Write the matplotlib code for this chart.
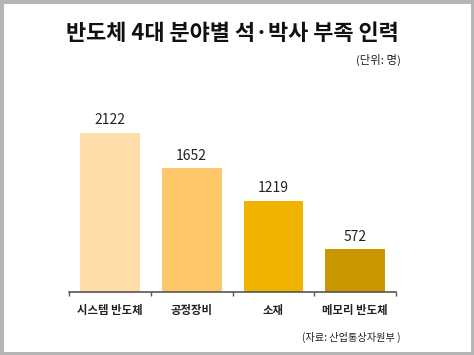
import matplotlib.pyplot as plt
from matplotlib.patches import Rectangle

plt.rcParams['font.family'] = ['Noto Sans CJK KR', 'DejaVu Sans']

categories = ['시스템 반도체', '공정장비', '소재', '메모리 반도체']
shortage = [2122, 1652, 1219, 572]
bar_colors = ['#FFDDAA', '#FEC86A', '#F0B300', '#C99700']

fig = plt.figure(figsize=(4.74, 3.55), dpi=100)
ax = fig.add_axes([0.1456, 0.1775, 0.69, 0.507])

x = range(len(categories))
bars = ax.bar(x, shortage, width=0.73, color=bar_colors)

# value labels above bars
for rect, val in zip(bars, shortage):
    ax.annotate(f'{val}', (rect.get_x() + rect.get_width() / 2, rect.get_height()),
                xytext=(0, 4), textcoords='offset points',
                ha='center', va='bottom', fontsize=10, color='#222222')

ax.set_xlim(-0.5, len(categories) - 0.5)
ax.set_ylim(0, 2400)

# ticks sit between categories, labels centred under bars
ax.set_xticks([i - 0.5 for i in range(len(categories) + 1)])
ax.set_xticklabels([])
ax.set_xticks(list(x), minor=True)
ax.set_xticklabels(categories, minor=True, fontsize=8.2, fontweight='bold', color='#222222')
ax.tick_params(axis='x', which='major', length=3, width=1, color='#555555')
ax.tick_params(axis='x', which='minor', length=0, pad=9)
ax.set_yticks([])

for side in ['top', 'right', 'left']:
    ax.spines[side].set_visible(False)
ax.spines['bottom'].set_color('#555555')
ax.spines['bottom'].set_linewidth(1.2)

fig.text(0.491, 0.906, '반도체 4대 분야별 석·박사 부족 인력', ha='center', va='center',
         fontsize=15.8, fontweight='bold', color='#111111')
fig.text(0.845, 0.831, '(단위: 명)', ha='right', va='center', fontsize=8.2, color='#222222')
fig.text(0.845, 0.05, '(자료: 산업통상자원부 )', ha='right', va='center', fontsize=7.3, color='#222222')

# grey frame around the picture
fig.patches.append(Rectangle((0, 0), 1, 1, transform=fig.transFigure, fill=False,
                             edgecolor='#b5b5b5', linewidth=5))

plt.savefig('out.png', dpi=100)
